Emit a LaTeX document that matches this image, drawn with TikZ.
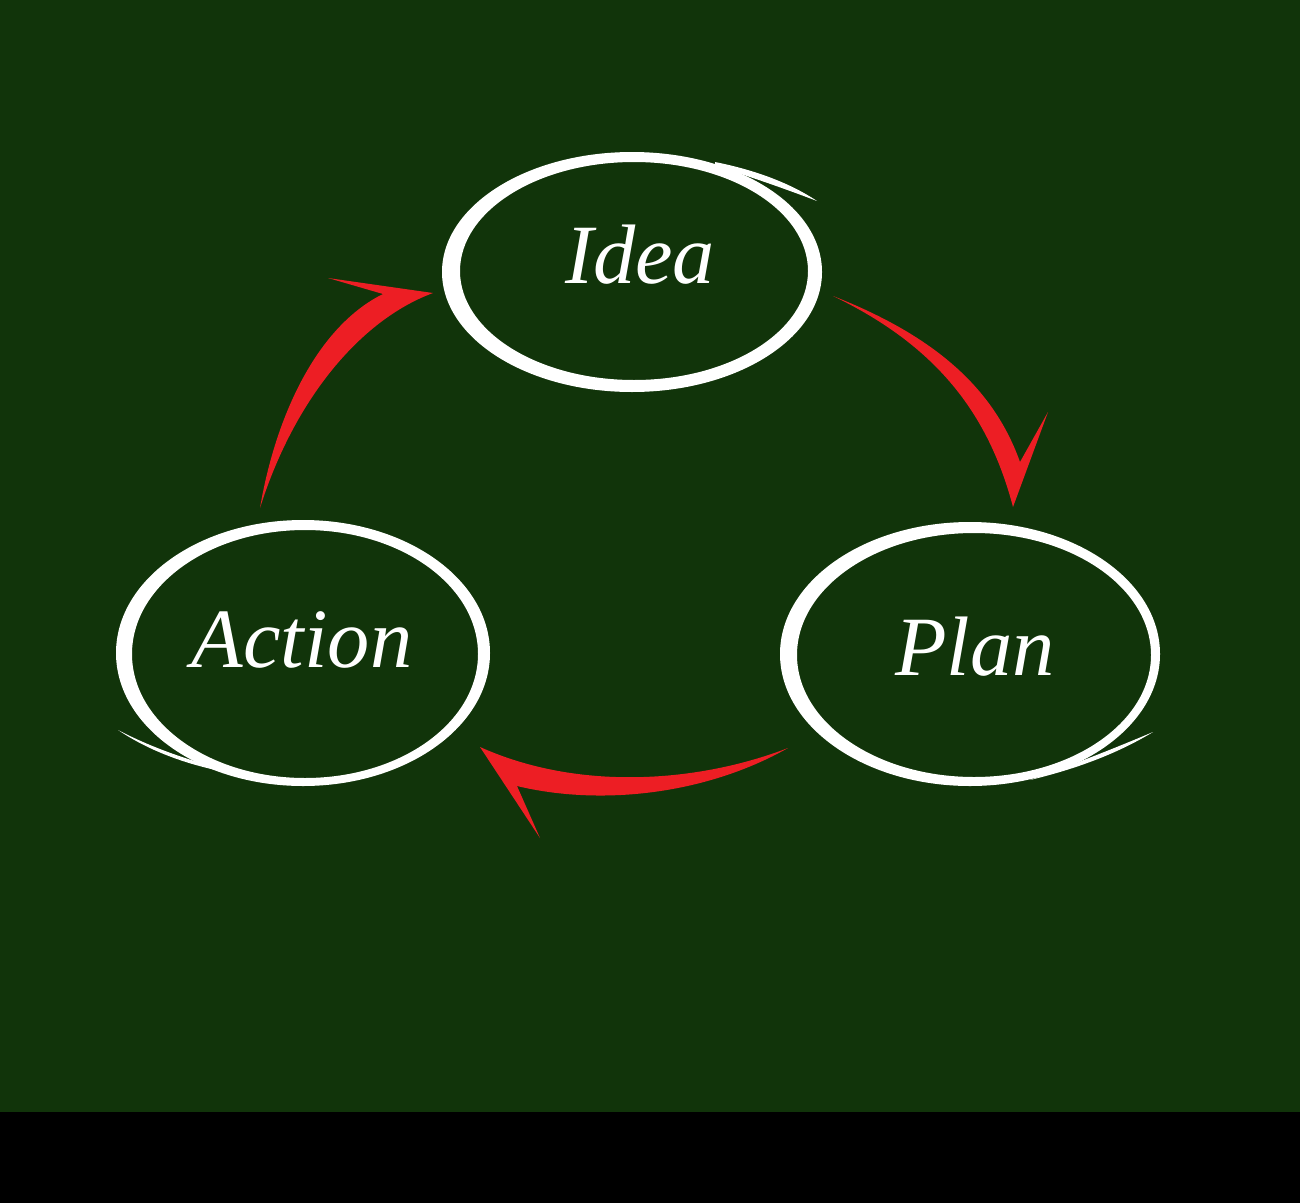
\documentclass[tikz,border=0pt]{standalone}
\usepackage{fontspec}
\setmainfont{Liberation Serif}
\definecolor{board}{RGB}{17,52,10}
\definecolor{arrowred}{RGB}{237,30,36}
\tikzset{
  word/.style={text=white,anchor=base,font=\itshape\fontsize{24}{28}\selectfont},
  ring/.style={fill=white,even odd rule},
  tail/.style={fill=white},
  swoosh/.style={fill=arrowred}
}
\begin{document}
\begin{tikzpicture}[x=0.01cm,y=-0.01cm]
  \useasboundingbox (0,0) rectangle (1300,1203);
  \fill[board] (0,0) rectangle (1300,1112);
  \fill[black] (0,1112) rectangle (1300,1203);

  % rings
  \fill[ring] (632,272) ellipse [x radius=190, y radius=120]
              (634,271) ellipse [x radius=174, y radius=109];
  \fill[ring] (303,653) ellipse [x radius=187, y radius=133]
              (305,654) ellipse [x radius=173, y radius=124];
  \fill[ring] (970,654) ellipse [x radius=190, y radius=132]
              (974,655) ellipse [x radius=177, y radius=122];

  % brush ends
  \fill[tail] (715,162) .. controls (755,170) and (790,183) .. (817,201)
              .. controls (788,190) and (752,177) .. (715,166) -- cycle;
  \fill[tail] (118,730) .. controls (160,752) and (210,768) .. (265,778)
              .. controls (210,772) and (160,758) .. (118,730) -- cycle;
  \fill[tail] (1153,732) .. controls (1120,752) and (1080,768) .. (1030,780)
              .. controls (1080,762) and (1120,746) .. (1153,732) -- cycle;

  \node[word] (I) at (640,283) {Idea};
  \node[word] (A) at (302,667) {Action};
  \node[word] (P) at (975,675) {Plan};

  % arrows
  \fill[swoosh] (833,296) .. controls (940,338) and (995,392) .. (1020,462)
                -- (1048,412) -- (1013,507)
                .. controls (988,412) and (935,345) .. (833,296) -- cycle;
  \fill[swoosh] (788,748) .. controls (700,782) and (580,792) .. (480,747)
                -- (540,838) -- (517,786)
                .. controls (600,806) and (705,795) .. (788,748) -- cycle;
  \fill[swoosh] (260,508) .. controls (276,414) and (318,326) .. (383,294)
                -- (328,278) -- (433,293)
                .. controls (360,320) and (294,400) .. (260,508) -- cycle;
\end{tikzpicture}
\end{document}
